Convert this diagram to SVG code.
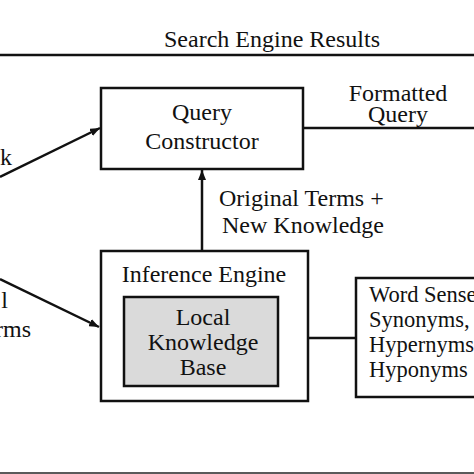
<svg xmlns="http://www.w3.org/2000/svg" width="474" height="474" viewBox="0 0 474 474">
<style>
text{font-family:"Liberation Serif","Times New Roman",serif;font-size:24px;fill:#111}
.c{text-anchor:middle}
.e{text-anchor:end}
.s{font-size:22.5px}
.box{fill:#fff;stroke:#111;stroke-width:2.5}
.ln{stroke:#111;stroke-width:2.5;fill:none}
</style>
<defs>
<marker id="ah" viewBox="0 0 10 8" refX="10" refY="4" markerWidth="10" markerHeight="8" markerUnits="userSpaceOnUse" orient="auto">
<path d="M0,0 L10,4 L0,8 Z" fill="#111"/>
</marker>
</defs>
<rect width="474" height="474" fill="#fff"/>
<g id="results">
<text class="c" x="272" y="47">Search Engine Results</text>
<line class="ln" x1="0" y1="55" x2="474" y2="55"/>
</g>
<g id="connectors">
<line class="ln" x1="0" y1="177" x2="100" y2="128" marker-end="url(#ah)"/>
<line class="ln" x1="0" y1="279" x2="99" y2="327" marker-end="url(#ah)"/>
<line class="ln" x1="202" y1="251" x2="202" y2="170" marker-end="url(#ah)"/>
<line class="ln" x1="303" y1="128" x2="474" y2="128"/>
<line class="ln" x1="356" y1="338" x2="279" y2="338" marker-end="url(#ah)"/>
<text x="219" y="206">Original Terms +</text>
<text x="222" y="233">New Knowledge</text>
<text class="c" x="398" y="101">Formatted</text>
<text class="c" x="398" y="122">Query</text>
<text class="e" x="12" y="165">k</text>
<text class="e" x="8" y="308">l</text>
<text class="e" x="31" y="337">rms</text>
</g>
<g id="query-constructor">
<rect class="box" x="101" y="88" width="202" height="81"/>
<text class="c" x="202" y="120">Query</text>
<text class="c" x="202" y="149">Constructor</text>
</g>
<g id="inference-engine">
<rect class="box" x="101" y="251" width="207" height="150"/>
<text class="c" x="204" y="282">Inference Engine</text>
</g>
<g id="local-knowledge-base">
<rect x="124" y="297" width="154" height="89" fill="#dadada" stroke="#111" stroke-width="2.5"/>
<text class="c" x="203" y="325">Local</text>
<text class="c" x="203" y="350">Knowledge</text>
<text class="c" x="203" y="375">Base</text>
</g>
<g id="word-senses">
<rect class="box" x="356" y="278" width="130" height="119"/>
<text class="s" x="369" y="302">Word Sense</text>
<text class="s" x="369" y="327">Synonyms,</text>
<text class="s" x="369" y="352">Hypernyms,</text>
<text class="s" x="369" y="377">Hyponyms</text>
</g>
<rect x="0" y="472" width="474" height="2" fill="#5a5a5a"/>
</svg>
